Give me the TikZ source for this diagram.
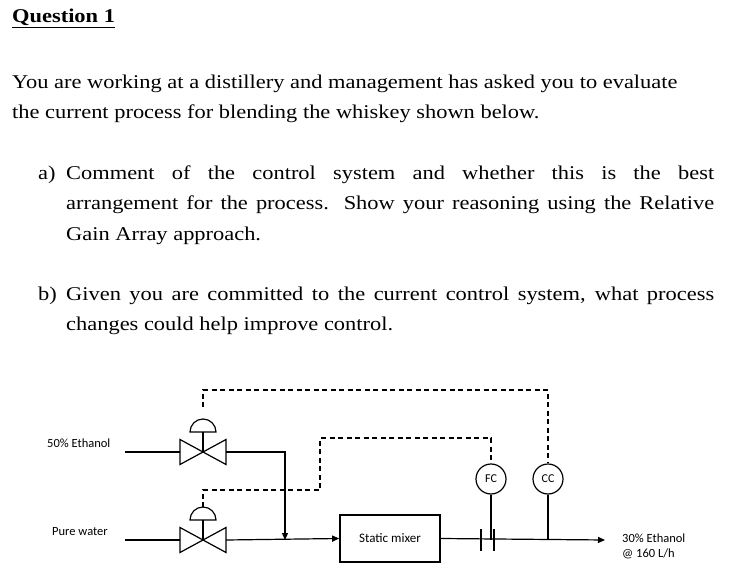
\documentclass[tikz,border=0pt]{standalone}
\usepackage{fontspec}
\setmainfont{Liberation Serif}[FakeStretch=1.15]
\newfontfamily\lab{Carlito}
\usetikzlibrary{arrows.meta}
\begin{document}
\begin{tikzpicture}[x=1pt,y=-1pt,
  body/.style={anchor=west,inner sep=0pt,font=\fontsize{19.5}{22}\selectfont},
  pipe/.style={line width=1.2pt},
  sig/.style={line width=1.2pt,dash pattern=on 5pt off 3.5pt},
  ctl/.style={draw,circle,line width=1.2pt,minimum size=30pt,inner sep=0pt,font=\lab\fontsize{12}{14}\selectfont},
  lbl/.style={font=\lab\fontsize{12.5}{15}\selectfont,inner sep=0pt},
  arr/.style={-{Triangle[length=7pt,width=6pt]}}]
\useasboundingbox[fill=white] (0,0) rectangle (737,583);
\node[body,font=\bfseries\fontsize{19.5}{22}\selectfont] (q) at (12,18) {\underline{Question 1}};
\node[body] (l1) at (12,84) {You are working at a distillery and management has asked you to evaluate};
\node[body] (l2) at (12,114) {the current process for blending the whiskey shown below.};
\node[body] (a) at (38,175) {a)};
\node[body] (a1) at (66,175) {\makebox[648pt][s]{Comment of the control system and whether this is the best}};
\node[body] (a2) at (66,205) {\makebox[648pt][s]{arrangement for the process. Show your reasoning using the Relative}};
\node[body] (a3) at (66,236) {Gain Array approach.};
\node[body] (b) at (38,296) {b)};
\node[body] (b1) at (66,296) {\makebox[648pt][s]{Given you are committed to the current control system, what process}};
\node[body] (b2) at (66,326) {changes could help improve control.};
% labels
\node[lbl,anchor=west] (e50) at (47,443) {50\% Ethanol};
\node[lbl,anchor=west] (pw) at (52,532) {Pure water};
\node[lbl,anchor=west,align=left] (out) at (622,546) {30\% Ethanol\\@ 160 L/h};
% mixer and controllers
\node[draw,line width=1.6pt,minimum width=100pt,minimum height=47pt,lbl,font=\lab\fontsize{13}{15}\selectfont] (mix) at (390,538.5) {Static mixer};
\node[ctl] (fc) at (491,479) {FC};
\node[ctl] (cc) at (548,479) {CC};
% valves
\foreach \y/\n in {452/v1,540/v2}{
  \coordinate (\n) at (203,\y);
  \draw[pipe,line join=miter] (180,\y-12.5) -- (180,\y+12.5) -- (226,\y-12.5) -- (226,\y+12.5) -- cycle;
  \draw[pipe] (\n) -- (203,\y-20);
  \draw[pipe] (190,\y-20) -- (216,\y-20) arc (0:-180:13) -- cycle;
}
% pipes
\draw[pipe] (125,452) -- (180,452);
\draw[pipe,arr] (226,452) -- (285,452) -- (285,540);
\draw[pipe] (125,540) -- (180,540);
\draw[pipe,arr] (226,540) -- (mix.west);
\draw[pipe,arr] (mix.east) -- (605,540);
\draw[pipe] (481,529) -- (481,551);
\draw[pipe] (494,529) -- (494,551);
\draw[pipe] (fc.south) -- (491,540);
\draw[pipe] (cc.south) -- (548,540);
% signals
\draw[sig] (203,407) -- (203,390) -- (548,390) -- (cc.north);
\draw[sig] (203,507) -- (203,490) -- (320,490) -- (320,438) -- (491,438) -- (fc.north);
\end{tikzpicture}
\end{document}
